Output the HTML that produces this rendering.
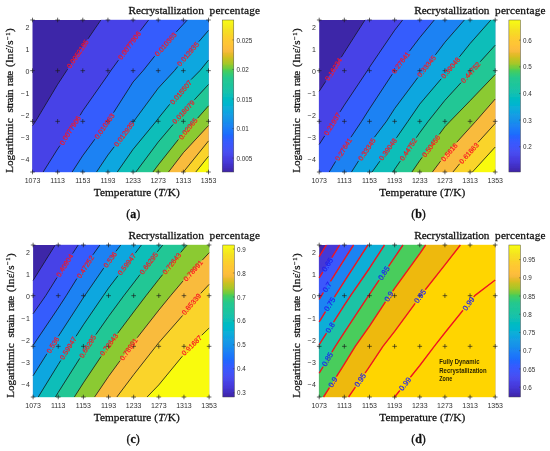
<!DOCTYPE html>
<html><head><meta charset="utf-8"><title>Recrystallization percentage</title>
<style>
html,body{margin:0;padding:0;background:#fff}
body{width:550px;height:451px;overflow:hidden}
svg{display:block}
text{font-family:"Liberation Sans",sans-serif;fill:#303030}
.tk{font-size:7px}
.ck{font-size:6.3px}
.cl{font-size:7px;fill:#fb1622;stroke:#fb1622;stroke-width:.2px}
.ser{font-family:"Liberation Serif",serif;fill:#111;stroke:#111;stroke-width:.26px}
.tt{font-size:11.3px}
.xl{font-size:11.3px}
.yl{font-size:11.2px}
.yp{letter-spacing:.42px}
.cap{font-size:12px}
.fd{font-size:6.6px;font-weight:bold;fill:#2e2600}
</style></head><body>
<svg width="550" height="451" viewBox="0 0 550 451">
<defs><linearGradient id="pg" x1="0" y1="0" x2="0" y2="1"><stop offset="0" stop-color="#f9fb10"/><stop offset="0.02" stop-color="#f7f515"/><stop offset="0.03" stop-color="#f6ef1a"/><stop offset="0.05" stop-color="#f5e91e"/><stop offset="0.06" stop-color="#f5e221"/><stop offset="0.08" stop-color="#f7dc25"/><stop offset="0.1" stop-color="#f9d528"/><stop offset="0.11" stop-color="#fcd02c"/><stop offset="0.13" stop-color="#fdcb30"/><stop offset="0.14" stop-color="#fec733"/><stop offset="0.16" stop-color="#fec535"/><stop offset="0.17" stop-color="#fec138"/><stop offset="0.19" stop-color="#fdbd3c"/><stop offset="0.21" stop-color="#f5ba3a"/><stop offset="0.22" stop-color="#e9ba2d"/><stop offset="0.24" stop-color="#d9bd24"/><stop offset="0.25" stop-color="#c9c122"/><stop offset="0.27" stop-color="#b7c425"/><stop offset="0.29" stop-color="#a2c72a"/><stop offset="0.3" stop-color="#88ca33"/><stop offset="0.32" stop-color="#6acc43"/><stop offset="0.33" stop-color="#4bcd57"/><stop offset="0.35" stop-color="#38cc70"/><stop offset="0.37" stop-color="#2bca82"/><stop offset="0.38" stop-color="#25c88d"/><stop offset="0.4" stop-color="#22c794"/><stop offset="0.41" stop-color="#20c698"/><stop offset="0.43" stop-color="#1ec69b"/><stop offset="0.44" stop-color="#1cc4a0"/><stop offset="0.46" stop-color="#19c3a7"/><stop offset="0.48" stop-color="#14c1ae"/><stop offset="0.49" stop-color="#0dbfb5"/><stop offset="0.51" stop-color="#06bdbd"/><stop offset="0.52" stop-color="#01bac3"/><stop offset="0.54" stop-color="#00b8ca"/><stop offset="0.56" stop-color="#04b4d0"/><stop offset="0.57" stop-color="#0ab0d6"/><stop offset="0.59" stop-color="#0dabdb"/><stop offset="0.6" stop-color="#10a6df"/><stop offset="0.62" stop-color="#12a0e3"/><stop offset="0.63" stop-color="#149be5"/><stop offset="0.65" stop-color="#1695e8"/><stop offset="0.67" stop-color="#178feb"/><stop offset="0.68" stop-color="#1989ef"/><stop offset="0.7" stop-color="#1b83f3"/><stop offset="0.71" stop-color="#1b7df7"/><stop offset="0.73" stop-color="#1c76fa"/><stop offset="0.75" stop-color="#1e6ffc"/><stop offset="0.76" stop-color="#2266fe"/><stop offset="0.78" stop-color="#2b61ff"/><stop offset="0.79" stop-color="#325cfe"/><stop offset="0.81" stop-color="#3859fd"/><stop offset="0.83" stop-color="#3d56fb"/><stop offset="0.84" stop-color="#4153f8"/><stop offset="0.86" stop-color="#4550f4"/><stop offset="0.87" stop-color="#484df0"/><stop offset="0.89" stop-color="#4747eb"/><stop offset="0.9" stop-color="#4741e5"/><stop offset="0.92" stop-color="#463cde"/><stop offset="0.94" stop-color="#4537d5"/><stop offset="0.95" stop-color="#4332cb"/><stop offset="0.97" stop-color="#422ec0"/><stop offset="0.98" stop-color="#402ab4"/><stop offset="1" stop-color="#3e26a8"/></linearGradient>
<filter id="sf" x="0" y="0" width="1" height="1"><feGaussianBlur stdDeviation="0.35"/></filter></defs>
<g filter="url(#sf)">
<rect width="550" height="451" fill="#fff"/>
<g transform="translate(32.5 20)">
<rect x="0" y="0" width="176" height="152" fill="#3e26a8"/>
<path d="M34.11 50.67L50.29 26.52L68.33 0L75.43 0L100.57 0L116.08 0L100.57 20.13L78.27 50.67L75.43 54.94L50.29 90.75L44.01 101.33L25.14 128.95L10.66 152L0 152L0 105.65L3.07 101.33L25.14 64.38L34.11 50.67Z" fill="#4743e7" stroke="#4743e7" stroke-width="0.4"/>
<path d="M78.27 50.67L100.57 20.13L116.08 0L125.71 0L150.86 0L154.77 0L150.86 4.21L125.71 31.71L110.6 50.67L100.57 62.01L75.5 101.33L75.43 101.42L50.29 135.62L39.67 152L25.14 152L10.66 152L25.14 128.95L44.01 101.33L50.29 90.75L75.43 54.94L78.27 50.67Z" fill="#355bfd" stroke="#355bfd" stroke-width="0.4"/>
<path d="M110.6 50.67L125.71 31.71L150.86 4.21L154.77 0L176 0L176 10.45L150.86 39.48L141.96 50.67L125.71 68.2L101.28 101.33L100.57 102.19L75.43 134.97L64.02 152L50.29 152L39.67 152L50.29 135.62L75.43 101.42L75.5 101.33L100.57 62.01L110.6 50.67Z" fill="#1b82f3" stroke="#1b82f3" stroke-width="0.4"/>
<path d="M141.96 50.67L150.86 39.48L176 10.45L176 40.16L167.42 50.67L150.86 67.35L125.71 98.48L123.62 101.33L100.57 129.33L84.76 152L75.43 152L64.02 152L75.43 134.97L100.57 102.19L101.28 101.33L125.71 68.2L141.96 50.67Z" fill="#0fa7df" stroke="#0fa7df" stroke-width="0.4"/>
<path d="M167.42 50.67L176 40.16L176 50.67L176 64.48L150.86 91.77L143.27 101.33L125.71 122.05L103.38 152L100.57 152L84.76 152L100.57 129.33L123.62 101.33L125.71 98.48L150.86 67.35L167.42 50.67Z" fill="#0abeb9" stroke="#0abeb9" stroke-width="0.4"/>
<path d="M143.27 101.33L150.86 91.77L176 64.48L176 85.85L162.34 101.33L150.86 113.18L125.71 144.93L120.44 152L103.38 152L125.71 122.05L143.27 101.33Z" fill="#21c795" stroke="#21c795" stroke-width="0.4"/>
<path d="M162.34 101.33L176 85.85L176 101.33L176 105.56L150.86 132.66L136.03 152L125.71 152L120.44 152L125.71 144.93L150.86 113.18L162.34 101.33Z" fill="#8bca32" stroke="#8bca32" stroke-width="0.4"/>
<path d="M136.03 152L150.86 132.66L176 105.56L176 120.91L150.94 152L150.86 152L136.03 152Z" fill="#f9bb3d" stroke="#f9bb3d" stroke-width="0.4"/>
<path d="M150.94 152L176 120.91L176 136.26L163.32 152L150.94 152Z" fill="#fad42a" stroke="#fad42a" stroke-width="0.4"/>
<path d="M163.32 152L176 136.26L176 152L163.32 152Z" fill="#f9fb10" stroke="#f9fb10" stroke-width="0.4"/>
<path d="M0 105.65L3.07 101.33L25.14 64.38L34.11 50.67L35.09 49.21M55.5 18.85L68.33 0" fill="none" stroke="#111" stroke-width="0.75" stroke-linejoin="round"/>
<path d="M10.66 152L25.14 128.95L27.41 125.63M47.6 95.29L50.29 90.75L75.43 54.94L78.27 50.67L85.95 40.15M107.79 10.76L116.08 0" fill="none" stroke="#111" stroke-width="0.75" stroke-linejoin="round"/>
<path d="M39.67 152L50.29 135.62L62.34 119.23M81.02 92.66L100.57 62.01L110.6 50.67L122.09 36.26M143.77 11.96L150.86 4.21L154.77 0" fill="none" stroke="#111" stroke-width="0.75" stroke-linejoin="round"/>
<path d="M64.02 152L75.43 134.97L81.68 126.83M101.43 101.13L125.71 68.2L141.96 50.67L145.23 46.55M166.3 21.65L176 10.45" fill="none" stroke="#111" stroke-width="0.75" stroke-linejoin="round"/>
<path d="M84.76 152L100.57 129.33L123.62 101.33L125.71 98.48L137.19 84.28M158.61 59.54L167.42 50.67L176 40.16" fill="none" stroke="#111" stroke-width="0.75" stroke-linejoin="round"/>
<path d="M103.38 152L125.71 122.05L140.51 104.59M161.9 79.78L176 64.48" fill="none" stroke="#111" stroke-width="0.75" stroke-linejoin="round"/>
<path d="M120.44 152L125.71 144.93L145.86 119.49M165.17 98.12L176 85.85" fill="none" stroke="#111" stroke-width="0.75" stroke-linejoin="round"/>
<path d="M136.03 152L150.86 132.66L176 105.56" fill="none" stroke="#111" stroke-width="0.75" stroke-linejoin="round"/>
<path d="M150.94 152L176 120.91" fill="none" stroke="#111" stroke-width="0.75" stroke-linejoin="round"/>
<path d="M163.32 152L176 136.26" fill="none" stroke="#111" stroke-width="0.75" stroke-linejoin="round"/>
<path d="M-2.3 0h4.6M0 -2.3v4.6M22.84 0h4.6M25.14 -2.3v4.6M47.99 0h4.6M50.29 -2.3v4.6M73.13 0h4.6M75.43 -2.3v4.6M98.27 0h4.6M100.57 -2.3v4.6M123.41 0h4.6M125.71 -2.3v4.6M148.56 0h4.6M150.86 -2.3v4.6M173.7 0h4.6M176 -2.3v4.6M-2.3 50.67h4.6M0 48.37v4.6M22.84 50.67h4.6M25.14 48.37v4.6M47.99 50.67h4.6M50.29 48.37v4.6M73.13 50.67h4.6M75.43 48.37v4.6M98.27 50.67h4.6M100.57 48.37v4.6M123.41 50.67h4.6M125.71 48.37v4.6M148.56 50.67h4.6M150.86 48.37v4.6M173.7 50.67h4.6M176 48.37v4.6M-2.3 101.33h4.6M0 99.03v4.6M22.84 101.33h4.6M25.14 99.03v4.6M47.99 101.33h4.6M50.29 99.03v4.6M73.13 101.33h4.6M75.43 99.03v4.6M98.27 101.33h4.6M100.57 99.03v4.6M123.41 101.33h4.6M125.71 99.03v4.6M148.56 101.33h4.6M150.86 99.03v4.6M173.7 101.33h4.6M176 99.03v4.6M-2.3 152h4.6M0 149.7v4.6M22.84 152h4.6M25.14 149.7v4.6M47.99 152h4.6M50.29 149.7v4.6M73.13 152h4.6M75.43 149.7v4.6M98.27 152h4.6M100.57 149.7v4.6M123.41 152h4.6M125.71 149.7v4.6M148.56 152h4.6M150.86 149.7v4.6M173.7 152h4.6M176 149.7v4.6" stroke="#1c1c1c" stroke-width="0.66" fill="none"/>
<text class="cl" style="" transform="translate(45.2 34.03) rotate(-55.83)" text-anchor="middle" dominant-baseline="central">0.0052185</text>
<text class="cl" style="" transform="translate(96.88 25.5) rotate(-53.57)" text-anchor="middle" dominant-baseline="central">0.0077906</text>
<text class="cl" style="" transform="translate(133.09 24.22) rotate(-48.27)" text-anchor="middle" dominant-baseline="central">0.010363</text>
<text class="cl" style="" transform="translate(155.51 34.01) rotate(-48.93)" text-anchor="middle" dominant-baseline="central">0.012935</text>
<text class="cl" style="" transform="translate(148.4 72.33) rotate(-49.35)" text-anchor="middle" dominant-baseline="central">0.015507</text>
<text class="cl" style="" transform="translate(150.91 91.97) rotate(-47.07)" text-anchor="middle" dominant-baseline="central">0.018079</text>
<text class="cl" style="" transform="translate(155.45 108.76) rotate(-50.82)" text-anchor="middle" dominant-baseline="central">0.02065</text>
<text class="cl" style="" transform="translate(37.61 110.53) rotate(-56.92)" text-anchor="middle" dominant-baseline="central">0.0077906</text>
<text class="cl" style="" transform="translate(71.99 106.11) rotate(-54.46)" text-anchor="middle" dominant-baseline="central">0.010363</text>
<text class="cl" style="" transform="translate(91.65 114.06) rotate(-53.72)" text-anchor="middle" dominant-baseline="central">0.012935</text>
<text class="tk" x="0" y="162.5" text-anchor="middle">1073</text>
<text class="tk" x="25.14" y="162.5" text-anchor="middle">1113</text>
<text class="tk" x="50.29" y="162.5" text-anchor="middle">1153</text>
<text class="tk" x="75.43" y="162.5" text-anchor="middle">1193</text>
<text class="tk" x="100.57" y="162.5" text-anchor="middle">1233</text>
<text class="tk" x="125.71" y="162.5" text-anchor="middle">1273</text>
<text class="tk" x="150.86" y="162.5" text-anchor="middle">1313</text>
<text class="tk" x="176" y="162.5" text-anchor="middle">1353</text>
<text class="tk" x="-3.2" y="9.57" text-anchor="end">2</text>
<text class="tk" x="-3.2" y="31.57" text-anchor="end">1</text>
<text class="tk" x="-3.2" y="53.57" text-anchor="end">0</text>
<text class="tk" x="-3.2" y="75.57" text-anchor="end" letter-spacing=".8" dx=".8">−1</text>
<text class="tk" x="-3.2" y="97.57" text-anchor="end" letter-spacing=".8" dx=".8">−2</text>
<text class="tk" x="-3.2" y="119.57" text-anchor="end" letter-spacing=".8" dx=".8">−3</text>
<text class="tk" x="-3.2" y="141.57" text-anchor="end" letter-spacing=".8" dx=".8">−4</text>
<rect x="189.7" y="0" width="11.6" height="152" fill="url(#pg)" stroke="#444" stroke-width="0.45"/>
<text class="ck" x="203.9" y="140.69">0.005</text>
<text class="ck" x="203.9" y="111.14">0.01</text>
<text class="ck" x="203.9" y="81.6">0.015</text>
<text class="ck" x="203.9" y="52.05">0.02</text>
<text class="ck" x="203.9" y="22.5">0.025</text>
<path d="M201.3 138.09h-1.5M201.3 108.54h-1.5M201.3 79h-1.5M201.3 49.45h-1.5M201.3 19.9h-1.5" stroke="#333" stroke-width="0.45" fill="none"/>
</g>
<text class="ser tt" y="13.6"><tspan x="128.5" textLength="75.3" lengthAdjust="spacing">Recrystallization</tspan> <tspan x="209.6" textLength="50.4" lengthAdjust="spacing">percentage</tspan></text>
<text class="ser xl" x="93.7" y="196.3" textLength="86" lengthAdjust="spacing">Temperature (<tspan font-style="italic">T</tspan>/K)</text>
<text class="ser yl" transform="translate(13.4 0) rotate(-90)"><tspan x="-172.7" textLength="54.3" lengthAdjust="spacing">Logarithmic</tspan> <tspan x="-112.6" textLength="23.1" lengthAdjust="spacing">strain</tspan> <tspan x="-85.9" textLength="15.1" lengthAdjust="spacing">rate</tspan> <tspan class="yp" x="-67">(lnε̇/s<tspan font-size="6.6px" dy="-3.6">−1</tspan><tspan dy="3.6">)</tspan></tspan></text>
<text class="ser cap" x="133.2" y="218.1" text-anchor="middle">(<tspan font-weight="bold">a</tspan>)</text>
<g transform="translate(319.2 20)">
<rect x="0" y="0" width="176" height="152" fill="#3e26a8"/>
<path d="M13.6 50.67L25.14 32.3L45.73 0L50.29 0L75.43 0L83.41 0L75.43 10.27L50.29 47.23L48.16 50.67L25.14 85.07L14.88 101.33L0 124.43L0 101.33L0 71.25L13.6 50.67Z" fill="#4743e7" stroke="#4743e7" stroke-width="0.4"/>
<path d="M48.16 50.67L50.29 47.23L75.43 10.27L83.41 0L100.57 0L115.08 0L100.57 17.58L75.43 50.63L75.4 50.67L50.29 88.81L42.39 101.33L25.14 127.02L10 152L0 152L0 124.43L14.88 101.33L25.14 85.07L48.16 50.67Z" fill="#355bfd" stroke="#355bfd" stroke-width="0.4"/>
<path d="M75.4 50.67L75.43 50.63L100.57 17.58L115.08 0L125.71 0L145.17 0L125.71 22.25L104.28 50.67L100.57 54.97L75.43 88.62L67.24 101.33L50.29 123.76L32.31 152L25.14 152L10 152L25.14 127.02L42.39 101.33L50.29 88.81L75.4 50.67Z" fill="#1b82f3" stroke="#1b82f3" stroke-width="0.4"/>
<path d="M104.28 50.67L125.71 22.25L145.17 0L150.86 0L171.69 0L150.86 23.59L129.16 50.67L125.71 54.47L100.57 84.07L88.72 101.33L75.43 120.5L52.91 152L50.29 152L32.31 152L50.29 123.76L67.24 101.33L75.43 88.62L100.57 54.97L104.28 50.67Z" fill="#0fa7df" stroke="#0fa7df" stroke-width="0.4"/>
<path d="M129.16 50.67L150.86 23.59L171.69 0L176 0L176 25.19L152.94 50.67L150.86 52.8L125.71 80.34L108.97 101.33L100.57 112.68L75.43 149.31L73.51 152L52.91 152L75.43 120.5L88.72 101.33L100.57 84.07L125.71 54.47L129.16 50.67Z" fill="#0abeb9" stroke="#0abeb9" stroke-width="0.4"/>
<path d="M152.94 50.67L176 25.19L176 50.67L176 54.52L150.86 80.77L130.85 101.33L125.71 106.72L100.57 140.58L92.75 152L75.43 152L73.51 152L75.43 149.31L100.57 112.68L108.97 101.33L125.71 80.34L150.86 52.8L152.94 50.67Z" fill="#21c795" stroke="#21c795" stroke-width="0.4"/>
<path d="M130.85 101.33L150.86 80.77L176 54.52L176 79.01L156.52 101.33L150.86 107.56L125.71 135.32L113.23 152L100.57 152L92.75 152L100.57 140.58L125.71 106.72L130.85 101.33Z" fill="#8bca32" stroke="#8bca32" stroke-width="0.4"/>
<path d="M156.52 101.33L176 79.01L176 101.33L176 103.42L150.86 131.09L133.74 152L125.71 152L113.23 152L125.71 135.32L150.86 107.56L156.52 101.33Z" fill="#f9bb3d" stroke="#f9bb3d" stroke-width="0.4"/>
<path d="M133.74 152L150.86 131.09L176 103.42L176 127.03L153.25 152L150.86 152L133.74 152Z" fill="#fad42a" stroke="#fad42a" stroke-width="0.4"/>
<path d="M153.25 152L176 127.03L176 152L153.25 152Z" fill="#f9fb10" stroke="#f9fb10" stroke-width="0.4"/>
<path d="M0 71.25L6.52 61.38M22.06 37.22L25.14 32.3L45.73 0" fill="none" stroke="#111" stroke-width="0.75" stroke-linejoin="round"/>
<path d="M0 124.43L5.46 115.95M20.82 91.92L25.14 85.07L48.16 50.67L50.29 47.23L75.43 10.27L83.41 -0" fill="none" stroke="#111" stroke-width="0.75" stroke-linejoin="round"/>
<path d="M10 152L16.4 141.45M31.73 117.21L42.39 101.33L50.29 88.81L73.05 54.23M90.27 31.12L100.57 17.58L115.08 0" fill="none" stroke="#111" stroke-width="0.75" stroke-linejoin="round"/>
<path d="M32.31 152L39.34 140.96M55.28 117.15L67.24 101.33L75.43 88.62L98.63 57.57M116.2 34.86L125.71 22.25L145.17 0" fill="none" stroke="#111" stroke-width="0.75" stroke-linejoin="round"/>
<path d="M52.91 152L60.66 141.16M77.29 117.82L88.72 101.33L100.57 84.07L121.98 58.86M140.32 36.74L150.86 23.59L171.69 0" fill="none" stroke="#111" stroke-width="0.75" stroke-linejoin="round"/>
<path d="M73.51 152L75.43 149.31L80.97 141.24M97.16 117.65L100.57 112.68L108.97 101.33L125.71 80.34L141.74 62.78M161.02 41.74L176 25.19" fill="none" stroke="#111" stroke-width="0.75" stroke-linejoin="round"/>
<path d="M92.75 152L100.57 140.58L102.97 137.36M120.03 114.38L125.71 106.72L130.85 101.33L150.86 80.77L176 54.52" fill="none" stroke="#111" stroke-width="0.75" stroke-linejoin="round"/>
<path d="M113.23 152L121.35 141.15M137.53 122.28L150.86 107.56L156.52 101.33L176 79.01" fill="none" stroke="#111" stroke-width="0.75" stroke-linejoin="round"/>
<path d="M133.74 152L140.4 143.87M158.96 122.18L176 103.42" fill="none" stroke="#111" stroke-width="0.75" stroke-linejoin="round"/>
<path d="M153.25 152L176 127.03" fill="none" stroke="#111" stroke-width="0.75" stroke-linejoin="round"/>
<path d="M-2.3 0h4.6M0 -2.3v4.6M22.84 0h4.6M25.14 -2.3v4.6M47.99 0h4.6M50.29 -2.3v4.6M73.13 0h4.6M75.43 -2.3v4.6M98.27 0h4.6M100.57 -2.3v4.6M123.41 0h4.6M125.71 -2.3v4.6M148.56 0h4.6M150.86 -2.3v4.6M173.7 0h4.6M176 -2.3v4.6M-2.3 50.67h4.6M0 48.37v4.6M22.84 50.67h4.6M25.14 48.37v4.6M47.99 50.67h4.6M50.29 48.37v4.6M73.13 50.67h4.6M75.43 48.37v4.6M98.27 50.67h4.6M100.57 48.37v4.6M123.41 50.67h4.6M125.71 48.37v4.6M148.56 50.67h4.6M150.86 48.37v4.6M173.7 50.67h4.6M176 48.37v4.6M-2.3 101.33h4.6M0 99.03v4.6M22.84 101.33h4.6M25.14 99.03v4.6M47.99 101.33h4.6M50.29 99.03v4.6M73.13 101.33h4.6M75.43 99.03v4.6M98.27 101.33h4.6M100.57 99.03v4.6M123.41 101.33h4.6M125.71 99.03v4.6M148.56 101.33h4.6M150.86 99.03v4.6M173.7 101.33h4.6M176 99.03v4.6M-2.3 152h4.6M0 149.7v4.6M22.84 152h4.6M25.14 149.7v4.6M47.99 152h4.6M50.29 149.7v4.6M73.13 152h4.6M75.43 149.7v4.6M98.27 152h4.6M100.57 149.7v4.6M123.41 152h4.6M125.71 149.7v4.6M148.56 152h4.6M150.86 149.7v4.6M173.7 152h4.6M176 149.7v4.6" stroke="#1c1c1c" stroke-width="0.66" fill="none"/>
<text class="cl" style="" transform="translate(14.35 49.33) rotate(-57.56)" text-anchor="middle" dominant-baseline="central">0.16234</text>
<text class="cl" style="" transform="translate(81.57 42.6) rotate(-52.13)" text-anchor="middle" dominant-baseline="central">0.27641</text>
<text class="cl" style="" transform="translate(107.34 46.23) rotate(-51.43)" text-anchor="middle" dominant-baseline="central">0.33345</text>
<text class="cl" style="" transform="translate(131.26 47.79) rotate(-49.48)" text-anchor="middle" dominant-baseline="central">0.39048</text>
<text class="cl" style="" transform="translate(151.37 52.29) rotate(-48.58)" text-anchor="middle" dominant-baseline="central">0.44752</text>
<text class="cl" style="" transform="translate(13.09 103.88) rotate(-57.83)" text-anchor="middle" dominant-baseline="central">0.21937</text>
<text class="cl" style="" transform="translate(24.25 129.34) rotate(-57.65)" text-anchor="middle" dominant-baseline="central">0.27641</text>
<text class="cl" style="" transform="translate(47.63 129.37) rotate(-55.37)" text-anchor="middle" dominant-baseline="central">0.33345</text>
<text class="cl" style="" transform="translate(68.72 129.28) rotate(-54.31)" text-anchor="middle" dominant-baseline="central">0.39048</text>
<text class="cl" style="" transform="translate(89.08 129.35) rotate(-55.83)" text-anchor="middle" dominant-baseline="central">0.44752</text>
<text class="cl" style="" transform="translate(111.78 126.09) rotate(-53.35)" text-anchor="middle" dominant-baseline="central">0.50456</text>
<text class="cl" style="" transform="translate(130.02 132.18) rotate(-49.35)" text-anchor="middle" dominant-baseline="central">0.5616</text>
<text class="cl" style="" transform="translate(149.76 133.1) rotate(-47.76)" text-anchor="middle" dominant-baseline="central">0.61863</text>
<text class="tk" x="0" y="162.5" text-anchor="middle">1073</text>
<text class="tk" x="25.14" y="162.5" text-anchor="middle">1113</text>
<text class="tk" x="50.29" y="162.5" text-anchor="middle">1153</text>
<text class="tk" x="75.43" y="162.5" text-anchor="middle">1193</text>
<text class="tk" x="100.57" y="162.5" text-anchor="middle">1233</text>
<text class="tk" x="125.71" y="162.5" text-anchor="middle">1273</text>
<text class="tk" x="150.86" y="162.5" text-anchor="middle">1313</text>
<text class="tk" x="176" y="162.5" text-anchor="middle">1353</text>
<text class="tk" x="-3.2" y="9.57" text-anchor="end">2</text>
<text class="tk" x="-3.2" y="31.57" text-anchor="end">1</text>
<text class="tk" x="-3.2" y="53.57" text-anchor="end">0</text>
<text class="tk" x="-3.2" y="75.57" text-anchor="end" letter-spacing=".8" dx=".8">−1</text>
<text class="tk" x="-3.2" y="97.57" text-anchor="end" letter-spacing=".8" dx=".8">−2</text>
<text class="tk" x="-3.2" y="119.57" text-anchor="end" letter-spacing=".8" dx=".8">−3</text>
<text class="tk" x="-3.2" y="141.57" text-anchor="end" letter-spacing=".8" dx=".8">−4</text>
<rect x="189.7" y="0" width="11.6" height="152" fill="url(#pg)" stroke="#444" stroke-width="0.45"/>
<text class="ck" x="203.9" y="129.36">0.2</text>
<text class="ck" x="203.9" y="102.71">0.3</text>
<text class="ck" x="203.9" y="76.07">0.4</text>
<text class="ck" x="203.9" y="49.42">0.5</text>
<text class="ck" x="203.9" y="22.77">0.6</text>
<path d="M201.3 126.76h-1.5M201.3 100.11h-1.5M201.3 73.47h-1.5M201.3 46.82h-1.5M201.3 20.17h-1.5" stroke="#333" stroke-width="0.45" fill="none"/>
</g>
<text class="ser tt" y="13.6"><tspan x="414.2" textLength="75.3" lengthAdjust="spacing">Recrystallization</tspan> <tspan x="495.1" textLength="50.4" lengthAdjust="spacing">percentage</tspan></text>
<text class="ser xl" x="379.3" y="196.3" textLength="86" lengthAdjust="spacing">Temperature (<tspan font-style="italic">T</tspan>/K)</text>
<text class="ser yl" transform="translate(300.1 0) rotate(-90)"><tspan x="-172.7" textLength="54.3" lengthAdjust="spacing">Logarithmic</tspan> <tspan x="-112.6" textLength="23.1" lengthAdjust="spacing">strain</tspan> <tspan x="-85.9" textLength="15.1" lengthAdjust="spacing">rate</tspan> <tspan class="yp" x="-67">(lnε̇/s<tspan font-size="6.6px" dy="-3.6">−1</tspan><tspan dy="3.6">)</tspan></tspan></text>
<text class="ser cap" x="418.5" y="218.1" text-anchor="middle">(<tspan font-weight="bold">b</tspan>)</text>
<g transform="translate(33.1 245)">
<rect x="0" y="0" width="176" height="152" fill="#3e26a8"/>
<path d="M22.11 0L25.14 0L45.07 0L25.14 30.58L12.61 50.67L0 68.72L0 50.67L0 35.43L22.11 0Z" fill="#4743e7" stroke="#4743e7" stroke-width="0.4"/>
<path d="M12.61 50.67L25.14 30.58L45.07 0L50.29 0L66.79 0L50.29 23.06L33.15 50.67L25.14 62.99L0 100.37L0 68.72L12.61 50.67Z" fill="#355bfd" stroke="#355bfd" stroke-width="0.4"/>
<path d="M33.15 50.67L50.29 23.06L66.79 0L75.43 0L87.64 0L75.43 16.08L51.65 50.67L50.29 52.67L25.14 91.44L18.51 101.33L0 130.74L0 101.33L0 100.37L25.14 62.99L33.15 50.67Z" fill="#1b82f3" stroke="#1b82f3" stroke-width="0.4"/>
<path d="M51.65 50.67L75.43 16.08L87.64 0L100.57 0L108.3 0L100.57 10.23L75.43 43.11L70.23 50.67L50.29 79.83L36.5 101.33L25.14 119.5L5.13 152L0 152L0 130.74L18.51 101.33L25.14 91.44L50.29 52.67L51.65 50.67Z" fill="#0fa7df" stroke="#0fa7df" stroke-width="0.4"/>
<path d="M70.23 50.67L75.43 43.11L100.57 10.23L108.3 0L125.71 0L129.67 0L125.71 4.88L100.57 37.9L90.75 50.67L75.43 71.51L54.51 101.33L50.29 107.63L25.14 147.36L22.28 152L5.13 152L25.14 119.5L36.5 101.33L50.29 79.83L70.23 50.67Z" fill="#0abeb9" stroke="#0abeb9" stroke-width="0.4"/>
<path d="M90.75 50.67L100.57 37.9L125.71 4.88L129.67 0L150.86 0L154.12 0L150.86 3.53L125.71 34.33L112.95 50.67L100.57 66.97L75.43 100.43L74.8 101.33L50.29 137.89L41.26 152L25.14 152L22.28 152L25.14 147.36L50.29 107.63L54.51 101.33L75.43 71.51L90.75 50.67Z" fill="#21c795" stroke="#21c795" stroke-width="0.4"/>
<path d="M112.95 50.67L125.71 34.33L150.86 3.53L154.12 0L176 0L176 7.77L150.86 34.89L137.52 50.67L125.71 65.14L100.57 97.24L97.49 101.33L75.43 131.43L61.5 152L50.29 152L41.26 152L50.29 137.89L74.8 101.33L75.43 100.43L100.57 66.97L112.95 50.67Z" fill="#8bca32" stroke="#8bca32" stroke-width="0.4"/>
<path d="M137.52 50.67L150.86 34.89L176 7.77L176 39.39L165.49 50.67L150.86 68.98L125.71 97.65L122.8 101.33L100.57 129.7L83.77 152L75.43 152L61.5 152L75.43 131.43L97.49 101.33L100.57 97.24L125.71 65.14L137.52 50.67Z" fill="#f9bb3d" stroke="#f9bb3d" stroke-width="0.4"/>
<path d="M165.49 50.67L176 39.39L176 50.67L176 83.09L157.2 101.33L150.86 109.27L125.71 139.89L114.02 152L100.57 152L83.77 152L100.57 129.7L122.8 101.33L125.71 97.65L150.86 68.98L165.49 50.67Z" fill="#fad42a" stroke="#fad42a" stroke-width="0.4"/>
<path d="M157.2 101.33L176 83.09L176 101.33L176 152L150.86 152L125.71 152L114.02 152L125.71 139.89L150.86 109.27L157.2 101.33Z" fill="#f9fb10" stroke="#f9fb10" stroke-width="0.4"/>
<path d="M0 35.43L22.11 0" fill="none" stroke="#111" stroke-width="0.75" stroke-linejoin="round"/>
<path d="M0 68.72L12.61 50.67L23.94 32.51M39.47 8.59L45.07 0" fill="none" stroke="#111" stroke-width="0.75" stroke-linejoin="round"/>
<path d="M0 100.37L25.14 62.99L33.15 50.67L43.78 33.55M59.78 9.8L66.79 0" fill="none" stroke="#111" stroke-width="0.75" stroke-linejoin="round"/>
<path d="M0 130.74L13.82 108.79M25.28 91.23L50.29 52.67L51.65 50.67L70.59 23.12M82.91 6.23L87.64 0" fill="none" stroke="#111" stroke-width="0.75" stroke-linejoin="round"/>
<path d="M5.13 152L25.14 119.5L27.68 115.44M42.99 91.21L50.29 79.83L70.23 50.67L75.43 43.11L84.88 30.76M102.39 7.83L108.3 0" fill="none" stroke="#111" stroke-width="0.75" stroke-linejoin="round"/>
<path d="M22.28 152L25.14 147.36L46.67 113.34M62.73 89.61L75.43 71.51L90.75 50.67L100.57 37.9L106.78 29.74M124.2 6.87L125.71 4.88L129.67 0" fill="none" stroke="#111" stroke-width="0.75" stroke-linejoin="round"/>
<path d="M41.26 152L50.29 137.89L67.98 111.51M84.61 88.21L100.57 66.97L112.95 50.67L125.71 34.33L129.51 29.68M147.69 7.4L150.86 3.53L154.12 0" fill="none" stroke="#111" stroke-width="0.75" stroke-linejoin="round"/>
<path d="M61.5 152L75.43 131.43L86.98 115.67M104.12 92.71L125.71 65.14L137.52 50.67L149.88 36.04M169.33 14.96L176 7.77" fill="none" stroke="#111" stroke-width="0.75" stroke-linejoin="round"/>
<path d="M83.77 152L100.57 129.7L122.8 101.33L125.71 97.65L149.53 70.49M167.73 48.27L176 39.39" fill="none" stroke="#111" stroke-width="0.75" stroke-linejoin="round"/>
<path d="M114.02 152L125.71 139.89L149.27 111.21M168.77 90.11L176 83.09" fill="none" stroke="#111" stroke-width="0.75" stroke-linejoin="round"/>
<path d="M-2.3 0h4.6M0 -2.3v4.6M22.84 0h4.6M25.14 -2.3v4.6M47.99 0h4.6M50.29 -2.3v4.6M73.13 0h4.6M75.43 -2.3v4.6M98.27 0h4.6M100.57 -2.3v4.6M123.41 0h4.6M125.71 -2.3v4.6M148.56 0h4.6M150.86 -2.3v4.6M173.7 0h4.6M176 -2.3v4.6M-2.3 50.67h4.6M0 48.37v4.6M22.84 50.67h4.6M25.14 48.37v4.6M47.99 50.67h4.6M50.29 48.37v4.6M73.13 50.67h4.6M75.43 48.37v4.6M98.27 50.67h4.6M100.57 48.37v4.6M123.41 50.67h4.6M125.71 48.37v4.6M148.56 50.67h4.6M150.86 48.37v4.6M173.7 50.67h4.6M176 48.37v4.6M-2.3 101.33h4.6M0 99.03v4.6M22.84 101.33h4.6M25.14 99.03v4.6M47.99 101.33h4.6M50.29 99.03v4.6M73.13 101.33h4.6M75.43 99.03v4.6M98.27 101.33h4.6M100.57 99.03v4.6M123.41 101.33h4.6M125.71 99.03v4.6M148.56 101.33h4.6M150.86 99.03v4.6M173.7 101.33h4.6M176 99.03v4.6M-2.3 152h4.6M0 149.7v4.6M22.84 152h4.6M25.14 149.7v4.6M47.99 152h4.6M50.29 149.7v4.6M73.13 152h4.6M75.43 149.7v4.6M98.27 152h4.6M100.57 149.7v4.6M123.41 152h4.6M125.71 149.7v4.6M148.56 152h4.6M150.86 149.7v4.6M173.7 152h4.6M176 149.7v4.6" stroke="#1c1c1c" stroke-width="0.66" fill="none"/>
<text class="cl" style="" transform="translate(31.5 20.42) rotate(-57.73)" text-anchor="middle" dominant-baseline="central">0.40904</text>
<text class="cl" style="" transform="translate(52.17 21.84) rotate(-56.92)" text-anchor="middle" dominant-baseline="central">0.47252</text>
<text class="cl" style="" transform="translate(76.96 14.69) rotate(-54.61)" text-anchor="middle" dominant-baseline="central">0.536</text>
<text class="cl" style="" transform="translate(93.63 19.24) rotate(-52.49)" text-anchor="middle" dominant-baseline="central">0.59947</text>
<text class="cl" style="" transform="translate(115.64 18.33) rotate(-52.92)" text-anchor="middle" dominant-baseline="central">0.66295</text>
<text class="cl" style="" transform="translate(138.69 18.5) rotate(-50.75)" text-anchor="middle" dominant-baseline="central">0.72643</text>
<text class="cl" style="" transform="translate(159.94 25.68) rotate(-48.07)" text-anchor="middle" dominant-baseline="central">0.78991</text>
<text class="cl" style="" transform="translate(158.24 59.16) rotate(-49.87)" text-anchor="middle" dominant-baseline="central">0.85339</text>
<text class="cl" style="" transform="translate(158.66 100.36) rotate(-45.2)" text-anchor="middle" dominant-baseline="central">0.91687</text>
<text class="cl" style="" transform="translate(19.72 100.05) rotate(-57.32)" text-anchor="middle" dominant-baseline="central">0.536</text>
<text class="cl" style="" transform="translate(34.95 103.21) rotate(-58.54)" text-anchor="middle" dominant-baseline="central">0.59947</text>
<text class="cl" style="" transform="translate(54.46 101.4) rotate(-57.56)" text-anchor="middle" dominant-baseline="central">0.66295</text>
<text class="cl" style="" transform="translate(75.81 99.58) rotate(-53.2)" text-anchor="middle" dominant-baseline="central">0.72643</text>
<text class="cl" style="" transform="translate(95.52 104.12) rotate(-54.61)" text-anchor="middle" dominant-baseline="central">0.78991</text>
<text class="tk" x="0" y="162.5" text-anchor="middle">1073</text>
<text class="tk" x="25.14" y="162.5" text-anchor="middle">1113</text>
<text class="tk" x="50.29" y="162.5" text-anchor="middle">1153</text>
<text class="tk" x="75.43" y="162.5" text-anchor="middle">1193</text>
<text class="tk" x="100.57" y="162.5" text-anchor="middle">1233</text>
<text class="tk" x="125.71" y="162.5" text-anchor="middle">1273</text>
<text class="tk" x="150.86" y="162.5" text-anchor="middle">1313</text>
<text class="tk" x="176" y="162.5" text-anchor="middle">1353</text>
<text class="tk" x="-3.2" y="9.57" text-anchor="end">2</text>
<text class="tk" x="-3.2" y="31.57" text-anchor="end">1</text>
<text class="tk" x="-3.2" y="53.57" text-anchor="end">0</text>
<text class="tk" x="-3.2" y="75.57" text-anchor="end" letter-spacing=".8" dx=".8">−1</text>
<text class="tk" x="-3.2" y="97.57" text-anchor="end" letter-spacing=".8" dx=".8">−2</text>
<text class="tk" x="-3.2" y="119.57" text-anchor="end" letter-spacing=".8" dx=".8">−3</text>
<text class="tk" x="-3.2" y="141.57" text-anchor="end" letter-spacing=".8" dx=".8">−4</text>
<rect x="189.7" y="0" width="11.6" height="152" fill="url(#pg)" stroke="#444" stroke-width="0.45"/>
<text class="ck" x="203.9" y="150.31">0.3</text>
<text class="ck" x="203.9" y="126.36">0.4</text>
<text class="ck" x="203.9" y="102.42">0.5</text>
<text class="ck" x="203.9" y="78.47">0.6</text>
<text class="ck" x="203.9" y="54.53">0.7</text>
<text class="ck" x="203.9" y="30.58">0.8</text>
<text class="ck" x="203.9" y="6.64">0.9</text>
<path d="M201.3 147.71h-1.5M201.3 123.76h-1.5M201.3 99.82h-1.5M201.3 75.87h-1.5M201.3 51.93h-1.5M201.3 27.98h-1.5M201.3 4.04h-1.5" stroke="#333" stroke-width="0.45" fill="none"/>
</g>
<text class="ser tt" y="238.6"><tspan x="128.5" textLength="75.3" lengthAdjust="spacing">Recrystallization</tspan> <tspan x="209.6" textLength="50.4" lengthAdjust="spacing">percentage</tspan></text>
<text class="ser xl" x="93.7" y="421.3" textLength="86" lengthAdjust="spacing">Temperature (<tspan font-style="italic">T</tspan>/K)</text>
<text class="ser yl" transform="translate(14 0) rotate(-90)"><tspan x="-397.7" textLength="54.3" lengthAdjust="spacing">Logarithmic</tspan> <tspan x="-337.6" textLength="23.1" lengthAdjust="spacing">strain</tspan> <tspan x="-310.9" textLength="15.1" lengthAdjust="spacing">rate</tspan> <tspan class="yp" x="-292">(lnε̇/s<tspan font-size="6.6px" dy="-3.6">−1</tspan><tspan dy="3.6">)</tspan></tspan></text>
<text class="ser cap" x="133.2" y="443.1" text-anchor="middle">(<tspan font-weight="bold">c</tspan>)</text>
<g transform="translate(319.2 245)">
<rect x="0" y="0" width="176" height="152" fill="#3e26a8"/>
<path d="M7.19 0L20.46 0L0 32.8L0 11.53L7.19 0Z" fill="#4537d6" stroke="#4537d6" stroke-width="0.4"/>
<path d="M20.46 0L25.14 0L34.4 0L25.14 14.26L2.22 50.67L0 54.3L0 50.67L0 32.8L20.46 0Z" fill="#3a58fc" stroke="#3a58fc" stroke-width="0.4"/>
<path d="M2.22 50.67L25.14 14.26L34.4 0L48.72 0L25.14 36.32L16.11 50.67L0 76.92L0 54.3L2.22 50.67Z" fill="#1a84f2" stroke="#1a84f2" stroke-width="0.4"/>
<path d="M16.11 50.67L25.14 36.32L48.72 0L50.29 0L65.3 0L50.29 23.24L31.41 50.67L25.14 60.15L0 99.55L0 76.92L16.11 50.67Z" fill="#0baed7" stroke="#0baed7" stroke-width="0.4"/>
<path d="M31.41 50.67L50.29 23.24L65.3 0L75.43 0L83.79 0L75.43 12.35L50.29 49.32L49.36 50.67L25.14 87.3L16.11 101.33L0 128.19L0 101.33L0 99.55L25.14 60.15L31.41 50.67Z" fill="#1ac3a5" stroke="#1ac3a5" stroke-width="0.4"/>
<path d="M49.36 50.67L50.29 49.32L75.43 12.35L83.79 0L100.57 0L106.44 0L100.57 8.56L75.43 43.3L70.39 50.67L50.29 81.04L36.02 101.33L25.14 119.17L4.3 152L0 152L0 128.19L16.11 101.33L25.14 87.3L49.36 50.67Z" fill="#48cd5c" stroke="#48cd5c" stroke-width="0.4"/>
<path d="M70.39 50.67L75.43 43.3L100.57 8.56L106.44 0L125.71 0L141.2 0L125.71 19.88L101.41 50.67L100.57 52.03L75.43 86.39L63.73 101.33L50.29 121.62L29.37 152L25.14 152L4.3 152L25.14 119.17L36.02 101.33L50.29 81.04L70.39 50.67Z" fill="#eeb908" stroke="#eeb908" stroke-width="0.4"/>
<path d="M101.41 50.67L125.71 19.88L141.2 0L150.86 0L176 0L176 50.67L176 101.33L176 152L150.86 152L125.71 152L100.57 152L75.43 152L50.29 152L29.37 152L50.29 121.62L63.73 101.33L75.43 86.39L100.57 52.03L101.41 50.67Z" fill="#ffd505" stroke="#ffd505" stroke-width="0.4"/>
<path d="M0 11.53L7.19 0" fill="none" stroke="#f0141e" stroke-width="1.4" stroke-linejoin="round"/>
<path d="M0 32.8L3.59 27.05M12.62 12.57L20.46 0" fill="none" stroke="#f0141e" stroke-width="1.4" stroke-linejoin="round"/>
<path d="M0 54.3L2.22 50.67L4.22 47.5M11.29 36.28L25.14 14.26L34.4 0" fill="none" stroke="#f0141e" stroke-width="1.4" stroke-linejoin="round"/>
<path d="M0 76.92L6.29 66.68M15.19 52.16L16.11 50.67L25.14 36.32L48.72 0" fill="none" stroke="#f0141e" stroke-width="1.4" stroke-linejoin="round"/>
<path d="M0 99.55L7.3 88.11M14.33 77.1L25.14 60.15L31.41 50.67L50.29 23.24L65.3 0" fill="none" stroke="#f0141e" stroke-width="1.4" stroke-linejoin="round"/>
<path d="M0 128.19L3.87 121.75M12.63 107.13L16.11 101.33L25.14 87.3L49.36 50.67L50.29 49.32L59.89 35.2M69.35 21.28L75.43 12.35L83.79 0" fill="none" stroke="#f0141e" stroke-width="1.4" stroke-linejoin="round"/>
<path d="M4.3 152L10.22 142.68M17.21 131.67L25.14 119.17L36.02 101.33L50.29 81.04L66.23 56.95M73.56 46.04L75.43 43.3L100.57 8.56L106.44 0" fill="none" stroke="#f0141e" stroke-width="1.4" stroke-linejoin="round"/>
<path d="M29.37 152L36.2 142.08M45.87 128.03L50.29 121.62L63.73 101.33L75.43 86.39L95.99 58.3M106.09 44.75L125.71 19.88L141.2 0" fill="none" stroke="#f0141e" stroke-width="1.4" stroke-linejoin="round"/>
<path d="M75.37 152L75.43 151.94L80.61 145.46M91.14 132.3L100.57 120.52L115.04 101.33L125.71 87.7L143.79 65.3M154.47 52.04L155.57 50.67L176 35.06" fill="none" stroke="#f0141e" stroke-width="1.4" stroke-linejoin="round"/>
<path d="M-2.3 0h4.6M0 -2.3v4.6M22.84 0h4.6M25.14 -2.3v4.6M47.99 0h4.6M50.29 -2.3v4.6M73.13 0h4.6M75.43 -2.3v4.6M98.27 0h4.6M100.57 -2.3v4.6M123.41 0h4.6M125.71 -2.3v4.6M148.56 0h4.6M150.86 -2.3v4.6M173.7 0h4.6M176 -2.3v4.6M-2.3 50.67h4.6M0 48.37v4.6M22.84 50.67h4.6M25.14 48.37v4.6M47.99 50.67h4.6M50.29 48.37v4.6M73.13 50.67h4.6M75.43 48.37v4.6M98.27 50.67h4.6M100.57 48.37v4.6M123.41 50.67h4.6M125.71 48.37v4.6M148.56 50.67h4.6M150.86 48.37v4.6M173.7 50.67h4.6M176 48.37v4.6M-2.3 101.33h4.6M0 99.03v4.6M22.84 101.33h4.6M25.14 99.03v4.6M47.99 101.33h4.6M50.29 99.03v4.6M73.13 101.33h4.6M75.43 99.03v4.6M98.27 101.33h4.6M100.57 99.03v4.6M123.41 101.33h4.6M125.71 99.03v4.6M148.56 101.33h4.6M150.86 99.03v4.6M173.7 101.33h4.6M176 99.03v4.6M-2.3 152h4.6M0 149.7v4.6M22.84 152h4.6M25.14 149.7v4.6M47.99 152h4.6M50.29 149.7v4.6M73.13 152h4.6M75.43 149.7v4.6M98.27 152h4.6M100.57 149.7v4.6M123.41 152h4.6M125.71 149.7v4.6M148.56 152h4.6M150.86 149.7v4.6M173.7 152h4.6M176 149.7v4.6" stroke="#1c1c1c" stroke-width="0.66" fill="none"/>
<text class="cl" style="fill:#2222ee;stroke:#2222ee;font-size:7.5px" transform="translate(8.23 19.8) rotate(-58.63)" text-anchor="middle" dominant-baseline="central">0.65</text>
<text class="cl" style="fill:#2222ee;stroke:#2222ee;font-size:7.5px" transform="translate(7.95 41.98) rotate(-57.89)" text-anchor="middle" dominant-baseline="central">0.7</text>
<text class="cl" style="fill:#2222ee;stroke:#2222ee;font-size:7.5px" transform="translate(10.49 59.25) rotate(-57.78)" text-anchor="middle" dominant-baseline="central">0.75</text>
<text class="cl" style="fill:#2222ee;stroke:#2222ee;font-size:7.5px" transform="translate(11.01 82.65) rotate(-57.74)" text-anchor="middle" dominant-baseline="central">0.8</text>
<text class="cl" style="fill:#2222ee;stroke:#2222ee;font-size:7.5px" transform="translate(8.27 114.33) rotate(-59.57)" text-anchor="middle" dominant-baseline="central">0.85</text>
<text class="cl" style="fill:#2222ee;stroke:#2222ee;font-size:7.5px" transform="translate(13.61 137.15) rotate(-57.65)" text-anchor="middle" dominant-baseline="central">0.9</text>
<text class="cl" style="fill:#2222ee;stroke:#2222ee;font-size:7.5px" transform="translate(41 135.16) rotate(-55.67)" text-anchor="middle" dominant-baseline="central">0.95</text>
<text class="cl" style="fill:#2222ee;stroke:#2222ee;font-size:7.5px" transform="translate(85.89 138.91) rotate(-51.3)" text-anchor="middle" dominant-baseline="central">0.99</text>
<text class="cl" style="fill:#2222ee;stroke:#2222ee;font-size:7.5px" transform="translate(64.68 28.26) rotate(-56.06)" text-anchor="middle" dominant-baseline="central">0.85</text>
<text class="cl" style="fill:#2222ee;stroke:#2222ee;font-size:7.5px" transform="translate(69.77 51.45) rotate(-56.13)" text-anchor="middle" dominant-baseline="central">0.9</text>
<text class="cl" style="fill:#2222ee;stroke:#2222ee;font-size:7.5px" transform="translate(100.96 51.4) rotate(-53.56)" text-anchor="middle" dominant-baseline="central">0.95</text>
<text class="cl" style="fill:#2222ee;stroke:#2222ee;font-size:7.5px" transform="translate(149.41 58.8) rotate(-54.04)" text-anchor="middle" dominant-baseline="central">0.99</text>
<text class="fd" x="120.1" y="118.9" textLength="40.2" lengthAdjust="spacingAndGlyphs">Fully Dynamic</text>
<text class="fd" x="120.1" y="127.5" textLength="47.3" lengthAdjust="spacingAndGlyphs">Recrystallization</text>
<text class="fd" x="120.1" y="136.1" textLength="13" lengthAdjust="spacingAndGlyphs">Zone</text>
<text class="tk" x="0" y="162.5" text-anchor="middle">1073</text>
<text class="tk" x="25.14" y="162.5" text-anchor="middle">1113</text>
<text class="tk" x="50.29" y="162.5" text-anchor="middle">1153</text>
<text class="tk" x="75.43" y="162.5" text-anchor="middle">1193</text>
<text class="tk" x="100.57" y="162.5" text-anchor="middle">1233</text>
<text class="tk" x="125.71" y="162.5" text-anchor="middle">1273</text>
<text class="tk" x="150.86" y="162.5" text-anchor="middle">1313</text>
<text class="tk" x="176" y="162.5" text-anchor="middle">1353</text>
<text class="tk" x="-3.2" y="9.57" text-anchor="end">2</text>
<text class="tk" x="-3.2" y="31.57" text-anchor="end">1</text>
<text class="tk" x="-3.2" y="53.57" text-anchor="end">0</text>
<text class="tk" x="-3.2" y="75.57" text-anchor="end" letter-spacing=".8" dx=".8">−1</text>
<text class="tk" x="-3.2" y="97.57" text-anchor="end" letter-spacing=".8" dx=".8">−2</text>
<text class="tk" x="-3.2" y="119.57" text-anchor="end" letter-spacing=".8" dx=".8">−3</text>
<text class="tk" x="-3.2" y="141.57" text-anchor="end" letter-spacing=".8" dx=".8">−4</text>
<rect x="189.7" y="0" width="11.6" height="152" fill="url(#pg)" stroke="#444" stroke-width="0.45"/>
<text class="ck" x="203.9" y="144.76">0.6</text>
<text class="ck" x="203.9" y="126.53">0.65</text>
<text class="ck" x="203.9" y="108.31">0.7</text>
<text class="ck" x="203.9" y="90.08">0.75</text>
<text class="ck" x="203.9" y="71.86">0.8</text>
<text class="ck" x="203.9" y="53.63">0.85</text>
<text class="ck" x="203.9" y="35.41">0.9</text>
<text class="ck" x="203.9" y="17.18">0.95</text>
<path d="M201.3 142.16h-1.5M201.3 123.93h-1.5M201.3 105.71h-1.5M201.3 87.48h-1.5M201.3 69.26h-1.5M201.3 51.03h-1.5M201.3 32.81h-1.5M201.3 14.58h-1.5" stroke="#333" stroke-width="0.45" fill="none"/>
</g>
<text class="ser tt" y="238.6"><tspan x="414.2" textLength="75.3" lengthAdjust="spacing">Recrystallization</tspan> <tspan x="495.1" textLength="50.4" lengthAdjust="spacing">percentage</tspan></text>
<text class="ser xl" x="379.3" y="421.3" textLength="86" lengthAdjust="spacing">Temperature (<tspan font-style="italic">T</tspan>/K)</text>
<text class="ser yl" transform="translate(300.1 0) rotate(-90)"><tspan x="-397.7" textLength="54.3" lengthAdjust="spacing">Logarithmic</tspan> <tspan x="-337.6" textLength="23.1" lengthAdjust="spacing">strain</tspan> <tspan x="-310.9" textLength="15.1" lengthAdjust="spacing">rate</tspan> <tspan class="yp" x="-292">(lnε̇/s<tspan font-size="6.6px" dy="-3.6">−1</tspan><tspan dy="3.6">)</tspan></tspan></text>
<text class="ser cap" x="418.5" y="443.1" text-anchor="middle">(<tspan font-weight="bold">d</tspan>)</text>
</g>
</svg></body></html>
